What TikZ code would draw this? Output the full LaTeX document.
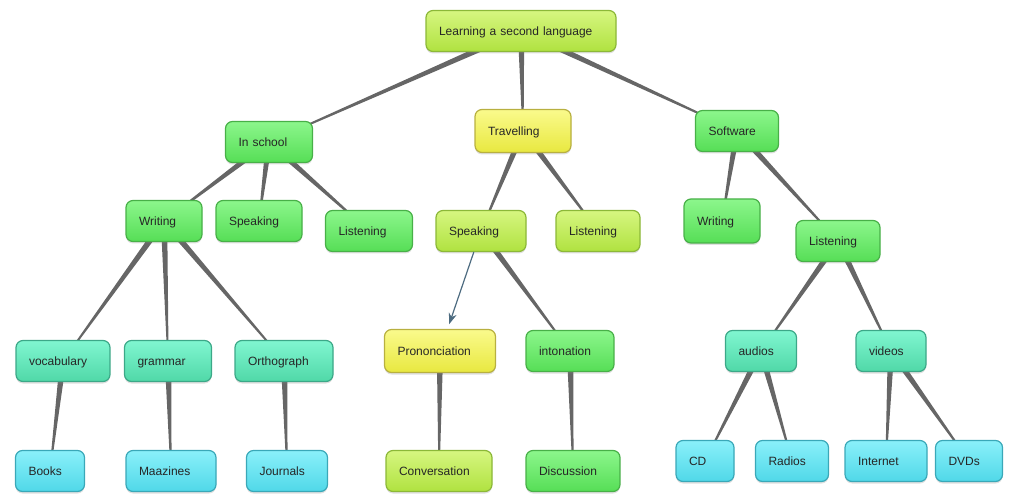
\documentclass[tikz,border=0pt]{standalone}
\usepackage{fontspec}
\setmainfont{Liberation Sans}
\usepackage{tikz}
\usetikzlibrary{calc,arrows.meta,shadows}
\pgfdeclarelayer{background}
\pgfsetlayers{background,main}
\definecolor{linkgray}{HTML}{666666}
\definecolor{arrowblue}{HTML}{4D6B80}
\definecolor{textgray}{HTML}{262626}

\begin{document}
\begin{tikzpicture}[x=1pt, y=-1pt]
	\tikzstyle{every node} = [rectangle, rounded corners = 7pt, line width = 1.2pt, inner xsep = 13pt, inner ysep = 0pt, minimum height = 41pt, text height = 9.3pt, text depth = 0.7pt, align = left, text = textgray, font = \fontsize{12}{14}\selectfont, drop shadow = {opacity = 0.25, shadow xshift = 0pt, shadow yshift = -2pt}]
	\tikzstyle{lime} = [draw = {rgb,255:red,140;green,184;blue,56}, top color = {rgb,255:red,214;green,246;blue,128}, bottom color = {rgb,255:red,176;green,226;blue,64}]
	\tikzstyle{green} = [draw = {rgb,255:red,72;green,176;blue,72}, top color = {rgb,255:red,140;green,246;blue,140}, bottom color = {rgb,255:red,86;green,222;blue,86}]
	\tikzstyle{yellow} = [draw = {rgb,255:red,184;green,176;blue,64}, top color = {rgb,255:red,250;green,250;blue,140}, bottom color = {rgb,255:red,232;green,232;blue,64}]
	\tikzstyle{teal} = [draw = {rgb,255:red,60;green,168;blue,136}, top color = {rgb,255:red,128;green,246;blue,208}, bottom color = {rgb,255:red,80;green,216;blue,168}]
	\tikzstyle{cyan} = [draw = {rgb,255:red,58;green,168;blue,184}, top color = {rgb,255:red,138;green,240;blue,250}, bottom color = {rgb,255:red,80;green,216;blue,232}]
	\tikzstyle{link} = [fill = linkgray, to path = {($(\tikztostart)!3.2pt!90:(\tikztotarget)$) -- ($(\tikztostart)!3.2pt!-90:(\tikztotarget)$) -- ($(\tikztotarget)!0.6pt!90:(\tikztostart)$) -- ($(\tikztotarget)!0.6pt!-90:(\tikztostart)$) -- cycle}]
	\useasboundingbox (0, 0) rectangle (1014, 502);
% top
\node[lime, text width = 164pt] (top) at (521, 31) {Learning a second language};
\node[green, text width = 61pt] (school) at (269, 142) {In school};
\node[yellow, text width = 70pt, minimum height = 43pt] (travel) at (523, 131) {Travelling};
\node[green, text width = 57pt] (soft) at (737, 131) {Software};
% second row
\node[green, text width = 50pt] (write1) at (164, 221) {Writing};
\node[green, text width = 60pt] (speak1) at (259, 221) {Speaking};
\node[green, text width = 61pt] (listen1) at (369, 231) {Listening};
\node[lime, text width = 64pt] (speak2) at (481, 231) {Speaking};
\node[lime, text width = 58pt] (listen2) at (598, 231) {Listening};
\node[green, text width = 50pt, minimum height = 44pt] (write3) at (722, 221) {Writing};
\node[green, text width = 58pt] (listen3) at (838, 241) {Listening};
% third row
\node[teal, text width = 68pt] (vocab) at (63, 361) {vocabulary};
\node[teal, text width = 61pt] (gram) at (168, 361) {grammar};
\node[teal, text width = 72pt] (ortho) at (284, 361) {Orthograph};
\node[yellow, text width = 85pt, minimum height = 43pt] (pron) at (440, 351) {Prononciation};
\node[green, text width = 62pt] (inton) at (570, 351) {intonation};
\node[teal, text width = 45pt] (audio) at (761, 351) {audios};
\node[teal, text width = 44pt] (video) at (891, 351) {videos};
% bottom row
\node[cyan, text width = 43pt] (books) at (50, 471) {Books};
\node[cyan, text width = 64pt] (maaz) at (171, 471) {Maazines};
\node[cyan, text width = 55pt] (journ) at (287, 471) {Journals};
\node[lime, text width = 80pt] (conv) at (439, 471) {Conversation};
\node[green, text width = 68pt] (disc) at (573, 471) {Discussion};
\node[cyan, text width = 32pt] (cd) at (705, 461) {CD};
\node[cyan, text width = 47pt] (radio) at (792, 461) {Radios};
\node[cyan, text width = 56pt] (inter) at (886, 461) {Internet};
\node[cyan, text width = 41pt] (dvd) at (969, 461) {DVDs};
% links
\begin{pgfonlayer}{background}
	\path[link] (top) to (school);
	\path[link] (top) to (travel);
	\path[link] (top) to (soft);
	\path[link] (school) to (write1);
	\path[link] (school) to (speak1);
	\path[link] (school) to (listen1);
	\path[link] (travel) to (speak2);
	\path[link] (travel) to (listen2);
	\path[link] (soft) to (write3);
	\path[link] (soft) to (listen3);
	\path[link] (write1) to (vocab);
	\path[link] (write1) to (gram);
	\path[link] (write1) to (ortho);
	\path[link] (vocab) to (books);
	\path[link] (gram) to (maaz);
	\path[link] (ortho) to (journ);
	\path[link] (speak2) to (inton);
	\path[link] (pron) to (conv);
	\path[link] (inton) to (disc);
	\path[link] (listen3) to (audio);
	\path[link] (listen3) to (video);
	\path[link] (audio) to (cd);
	\path[link] (audio) to (radio);
	\path[link] (video) to (inter);
	\path[link] (video) to (dvd);
\end{pgfonlayer}
	\path[draw, arrowblue, line width = 1.2pt, shorten >= 5pt, -{Stealth[length = 11pt, width = 8pt]}] (speak2) -- (pron);
\end{tikzpicture}
\end{document}
